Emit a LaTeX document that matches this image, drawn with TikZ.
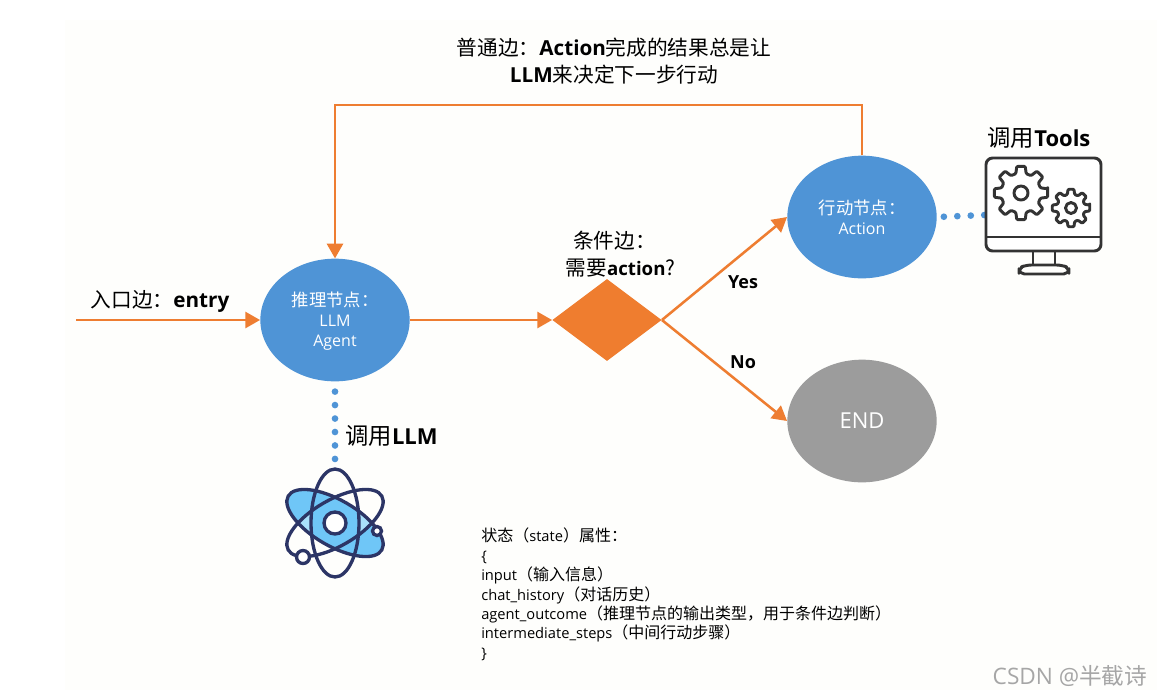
\documentclass[tikz,border=0pt]{standalone}
\usepackage{fontspec}
\setmainfont{Open Sans}
\newfontfamily\cjk{Noto Sans CJK SC}
\newcommand{\zh}[1]{{\cjk #1}}
\newcommand{\zn}[1]{{\cjk\fontsize{13pt}{15pt}\selectfont #1}}
\newcommand{\zs}[1]{{\cjk\fontsize{12pt}{14.55pt}\selectfont #1}}
\usetikzlibrary{arrows.meta,shapes.geometric,calc}
\definecolor{flowcolor}{HTML}{EE7D31}
\definecolor{nodeblue}{HTML}{4F94D6}
\definecolor{endgray}{HTML}{9C9C9C}
\definecolor{atomink}{HTML}{2C3566}
\definecolor{atomfill}{HTML}{6FC6F7}
\definecolor{atomlight}{HTML}{A9E0FB}
\definecolor{iconink}{HTML}{333333}
\definecolor{paper}{HTML}{FEFEFC}
\tikzset{
  flow/.style={->,flowcolor,line width=1.9pt},
  dotline/.style={nodeblue,line width=5pt,line cap=round,dash pattern=on 0pt off 10.1pt},
  bignode/.style={ellipse,fill=#1,minimum width=112pt,minimum height=92pt,inner sep=0pt,text=white,align=center,font=\fontsize{12pt}{15pt}\selectfont},
  label/.style={font=\fontsize{15.5pt}{20pt}\selectfont,text=black,align=center},
  iconline/.style={iconink,line width=2.2pt,line join=round},
  orbit/.style={atomink,line width=2.5pt},
}
\newcommand{\gearicon}[4]{% x, y, outer, inner
  \begin{scope}[shift={(#1,#2)}]
    \draw[iconline,rounded corners=0.8pt,fill=white] (-9:#3)
      \foreach \a in {0,45,...,315} {
        -- (\a-9:#3) -- (\a+9:#3) -- (\a+15:#4) -- (\a+30:#4)
      } -- cycle;
  \end{scope}
}
\begin{document}
\begin{tikzpicture}[x=0.75pt,y=-0.75pt,>={Triangle[length=11pt,width=12pt]}]
  \useasboundingbox (0,0) rectangle (1157,694);
  % background
  \fill[white] (0,0) rectangle (1157,694);
  \fill[paper] (65,20) rectangle (1157,690);

  % the nodes
  \node[bignode=nodeblue] (agent) at (335,320) {\rule{0pt}{13pt}\zn{推理节点：}\\LLM\\Agent};
  \node[bignode=nodeblue] (action) at (862,217) {\zn{行动节点：}\\Action};
  \node[bignode=endgray,font=\fontsize{16.5pt}{20pt}\selectfont] (finish) at (862,421) {END};
  \node[diamond,fill=flowcolor!95!orange,minimum width=82pt,minimum height=61.5pt,aspect=1.34,inner sep=0pt] (cond) at (607,320) {};
  \coordinate (entry) at (76,320);
  \coordinate (turn) at (335,105);
  \coordinate (atomtop) at (335,471);
  \coordinate (screen) at (985,215);

  % the edges
  \draw[flow] (entry) -- (agent.west);
  \draw[flow] (agent.east) -- (cond.west);
  \draw[flow] (cond.east) -- (action.west);
  \draw[flow] (cond.east) -- (finish.west);
  \draw[flow] (action.north) |- (turn) -- (agent.north);

  % the dots
  \draw[dotline,dash phase=2.6pt] (agent.south) -- (atomtop);
  \draw[dotline,dash phase=4.9pt] (action.east) -- (screen);

  % the labels
  \node[label] (toplabel) at (614,61) {\zh{普通边：}\textbf{Action}\zh{完成的结果总是让}\\\textbf{LLM}\zh{来决定下一步行动}};
  \node[label] (entrylabel) at (160,301) {\zh{入口边：}\textbf{entry}};
  \node[label,align=left,anchor=west] (condlabel) at (561,254) {\hspace{5.5pt}\zh{条件边：}\\\zh{需要}{\fontsize{14pt}{20pt}\selectfont\textbf{action}}\zh{?}};
  \node[label,font=\fontsize{13.5pt}{16pt}\selectfont\bfseries] (yeslabel) at (743,282) {Yes};
  \node[label,font=\fontsize{13.5pt}{16pt}\selectfont\bfseries] (nolabel) at (743,362) {No};
  \node[label,font=\fontsize{17.5pt}{20pt}\selectfont] (toolslabel) at (1039,138) {\zh{调用}{\fontsize{16.5pt}{20pt}\selectfont\textbf{Tools}}};
  \node[label,font=\fontsize{17.5pt}{20pt}\selectfont] (llmlabel) at (391.5,436) {\zh{调用}{\fontsize{16.5pt}{20pt}\selectfont\textbf{LLM}}};

  % the state
  \node[anchor=north west,inner sep=0pt,align=left,font=\fontsize{11pt}{14.55pt}\selectfont] (state) at (481,528) {%
    \zs{状态（}state\zs{）属性：}\\
    \{\\
    input\zs{（输入信息）}\\
    chat\_history\zs{（对话历史）}\\
    agent\_outcome\zs{（推理节点的输出类型，用于条件边判断）}\\
    intermediate\_steps\zs{（中间行动步骤）}\\
    \}};

  % the mark
  \node[text=black!35,font=\fontsize{17pt}{20pt}\selectfont] (mark) at (1070,676) {CSDN @\zh{半截诗}};

  % the computer
  \draw[iconline,rounded corners=5pt,fill=white] (986,158) rectangle (1101,251);
  \draw[iconline] (986,237) -- (1101,237);
  \draw[iconline] (1033,251) -- (1033,265) (1055,251) -- (1055,265);
  \draw[iconline,rounded corners=4pt] (1019,274) -- (1019,268) -- (1026,265) -- (1062,265) -- (1069,268) -- (1069,274) -- cycle;
  \gearicon{1021}{193}{27}{20}
  \gearicon{1071}{208}{19}{14}
  \draw[iconline] (1021,193) circle (7);
  \draw[iconline] (1071,208) circle (5.5);

  % the atom
  \fill[atomfill,rotate around={-30:(335,523)}] (335,523) ellipse (54 and 23);
  \fill[atomlight] (296,523) -- (311,510) -- (311,536) -- cycle;
  \fill[atomlight] (374,523) -- (359,510) -- (359,536) -- cycle;
  \draw[orbit,rotate around={-30:(335,523)}] (335,523) ellipse (54 and 23);
  \draw[orbit,rotate around={30:(335,523)}] (335,523) ellipse (54 and 23);
  \draw[orbit,rotate around={90:(335,523)}] (335,523) ellipse (54 and 24);
  \draw[orbit,fill=white] (335,523) circle (11);
  \draw[orbit,fill=white] (377,531) circle (4.5);
  \draw[orbit,fill=white] (303,557) circle (6.5);
\end{tikzpicture}
\end{document}
